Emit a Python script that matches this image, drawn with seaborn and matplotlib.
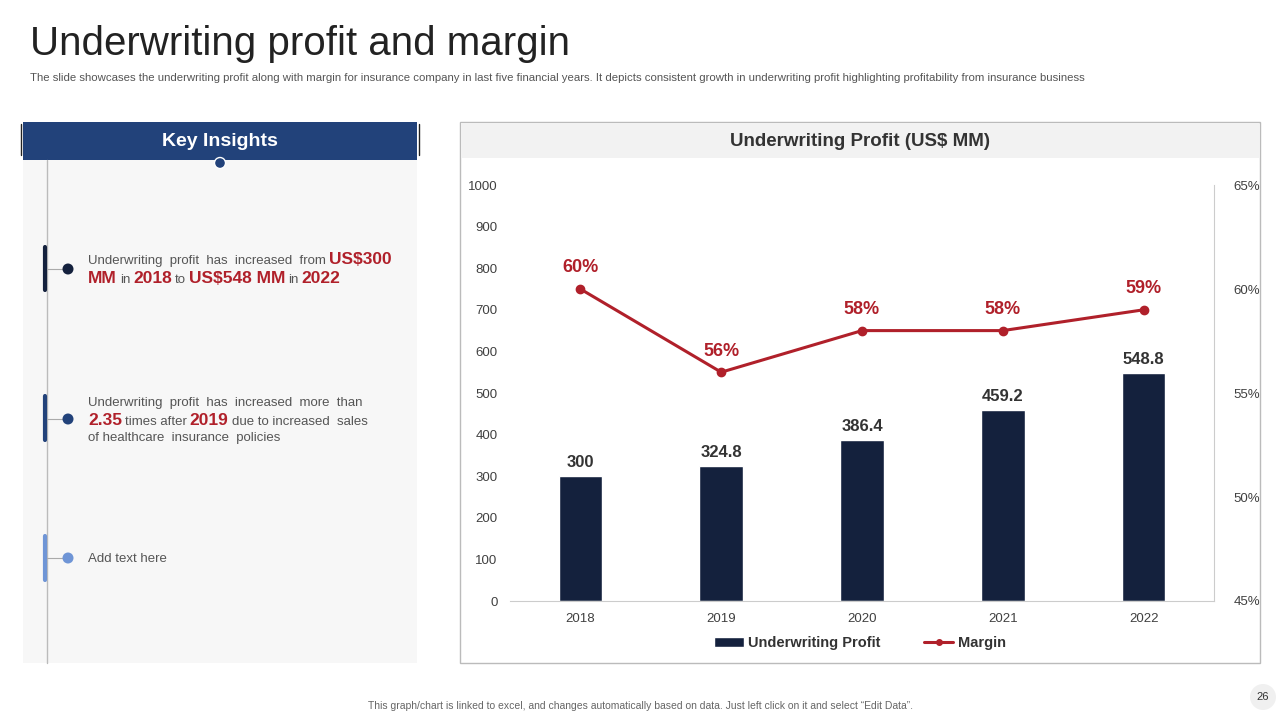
import matplotlib
matplotlib.use("Agg")
import matplotlib.pyplot as plt
import seaborn as sns
import pandas as pd
from matplotlib.patches import Rectangle, Ellipse
from matplotlib.lines import Line2D

years = ["2018", "2019", "2020", "2021", "2022"]
profit = [300, 324.8, 386.4, 459.2, 548.8]
margin = [60, 56, 58, 58, 59]
profit_labels = ["300", "324.8", "386.4", "459.2", "548.8"]
margin_labels = ["60%", "56%", "58%", "58%", "59%"]

NAVY = "#14213d"
RED = "#b0202a"
GREY = "#404040"

sns.set_style("white")
plt.rcParams['font.family'] = ['Liberation Sans', 'DejaVu Sans']

fig = plt.figure(figsize=(12.8, 7.2), dpi=100)
W, H = 1280, 720
def fx(x): return x / W
def fy(y): return 1 - y / H
def dot(x, y, r, fc, ec="none", lw=0, z=5):
    fig.patches.append(Ellipse((fx(x), fy(y)), 2 * r / W, 2 * r / H, transform=fig.transFigure,
                               facecolor=fc, edgecolor=ec, lw=lw, zorder=z))

fig.text(fx(30), fy(44), "Underwriting profit and margin", fontsize=29, color="#222222", va="center")
fig.text(fx(30), fy(78), "The slide showcases the underwriting profit along with margin for insurance company in last five financial years. It depicts consistent growth in underwriting profit highlighting profitability from insurance business",
         fontsize=8.2, color="#555555", va="center")

# left panel
fig.patches.append(Rectangle((fx(23), fy(663)), fx(417-23), (663-160)/H, transform=fig.transFigure, facecolor="#f7f7f7", edgecolor="none", zorder=-2))
fig.patches.append(Rectangle((fx(23), fy(160)), fx(417-23), (160-122)/H, transform=fig.transFigure, facecolor="#22427a", edgecolor="none", zorder=-1))
fig.lines.append(Line2D([fx(21), fx(21)], [fy(124), fy(155)], transform=fig.transFigure, color="#222", lw=1))
fig.lines.append(Line2D([fx(419), fx(419)], [fy(124), fy(155)], transform=fig.transFigure, color="#222", lw=1))
fig.text(fx(220), fy(141), "Key Insights", fontsize=14, color="white", weight="bold", ha="center", va="center")
dot(220, 163, 5.5, "#22427a", "white", 1)
fig.lines.append(Line2D([fx(47), fx(47)], [fy(160), fy(663)], transform=fig.transFigure, color="#bbbbbb", lw=1))
for (y0, y1, yc, col) in [(247, 290, 269, "#14213d"), (396, 440, 419, "#22427a"), (536, 580, 558, "#6f95d6")]:
    fig.lines.append(Line2D([fx(45), fx(45)], [fy(y0), fy(y1)], transform=fig.transFigure, color=col, lw=3, solid_capstyle="round"))
    fig.lines.append(Line2D([fx(47), fx(64)], [fy(yc), fy(yc)], transform=fig.transFigure, color="#aaaaaa", lw=0.8))
    dot(68, yc, 5.5, col)

fig.canvas.draw()
renderer = fig.canvas.get_renderer()
def rich(x, y, pieces):
    for txt, red in pieces:
        t = fig.text(fx(x), fy(y), txt, fontsize=12.5 if red else 9.5, color=RED if red else "#555555",
                     weight="bold" if red else "normal", va="baseline")
        bb = t.get_window_extent(renderer)
        x += bb.width + 3

rich(88, 264, [("Underwriting  profit  has  increased  from", False), ("US$300", True)])
rich(88, 283, [("MM", True), ("in", False), ("2018", True), ("to", False), ("US$548 MM", True), ("in", False), ("2022", True)])
rich(88, 406, [("Underwriting  profit  has  increased  more  than", False)])
rich(88, 425, [("2.35", True), ("times after", False), ("2019", True), ("due to increased  sales", False)])
rich(88, 441, [("of healthcare  insurance  policies", False)])
rich(88, 562, [("Add text here", False)])

# chart frame
fig.patches.append(Rectangle((fx(460), fy(663)), fx(1260-460), (663-122)/H, transform=fig.transFigure, facecolor="white", edgecolor="#bbbbbb", lw=1, zorder=-2))
fig.patches.append(Rectangle((fx(461), fy(158)), fx(1259-461), (158-123)/H, transform=fig.transFigure, facecolor="#f2f2f2", edgecolor="none", zorder=-1))
fig.text(fx(860), fy(141), "Underwriting Profit (US$ MM)", fontsize=13.5, color="#333333", weight="bold", ha="center", va="center")

ax = fig.add_axes([fx(510), fy(601), fx(1214 - 510), (601 - 185) / H])
ax.set_zorder(2)
ax.set_facecolor("none")
df = pd.DataFrame({"year": years, "profit": profit})
sns.barplot(data=df, x="year", y="profit", color=NAVY, width=0.31, saturation=1, ax=ax)
ax.set_xlim(-0.5, 4.5)
ax.set_ylim(0, 1000)
ax.set_yticks(range(0, 1001, 100))
ax.set_xlabel(""); ax.set_ylabel("")
for s in ["top", "left"]:
    ax.spines[s].set_visible(False)
ax.spines["bottom"].set_color("#cccccc")
ax.spines["right"].set_color("#cccccc")
ax.tick_params(axis="both", length=0, labelsize=9.5, labelcolor=GREY, pad=9)
for i, v in enumerate(profit):
    ax.text(i, v + 14, profit_labels[i], ha="center", va="bottom", fontsize=12, weight="bold", color="#333333")

ax2 = ax.twinx()
ax2.set_zorder(3)
ax2.set_facecolor("none")
ax2.plot(range(len(years)), margin, color=RED, lw=2.2, marker="o", ms=6)
ax2.set_ylim(45, 65)
ax2.set_yticks([45, 50, 55, 60, 65])
ax2.set_yticklabels(["45%", "50%", "55%", "60%", "65%"])
for s in ["top", "left", "bottom", "right"]:
    ax2.spines[s].set_visible(False)
ax2.tick_params(axis="y", length=0, labelsize=9.5, labelcolor=GREY, pad=14)
for i, v in enumerate(margin):
    ax2.annotate(margin_labels[i], (i, v), xytext=(0, 9), textcoords="offset points", ha="center", va="bottom",
                 fontsize=13, weight="bold", color=RED)

handles = [Rectangle((0, 0), 1, 1, facecolor=NAVY),
           Line2D([], [], color=RED, lw=2.2, marker="o", ms=4)]
fig.legend(handles, ["Underwriting Profit", "Margin"], loc="center", bbox_to_anchor=(fx(860), fy(643)), ncol=2,
           frameon=False, prop={"size": 10.5, "weight": "bold"}, labelcolor="#333333", handlelength=2, columnspacing=3, handletextpad=0.3)

fig.text(fx(640), fy(706), "This graph/chart is linked to excel, and changes automatically based on data. Just left click on it and select \u201cEdit Data\u201d.",
         fontsize=7.5, color="#666666", ha="center", va="center")
dot(1263, 697, 13, "#f0f0f0", z=-1)
fig.text(fx(1263), fy(697), "26", fontsize=8, color="#333333", ha="center", va="center")

fig.savefig("out.png", dpi=100)
